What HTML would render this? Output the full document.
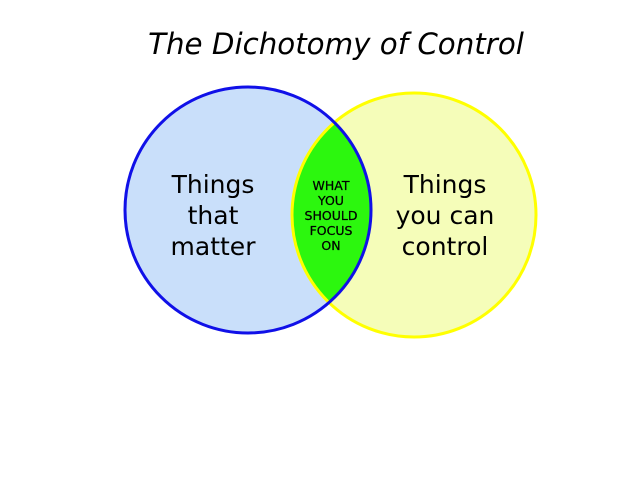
<!DOCTYPE html>
<html><head><style>
html,body{margin:0;padding:0;background:#fff;width:640px;height:480px;overflow:hidden}
</style></head><body>
<svg width="640" height="480" xmlns="http://www.w3.org/2000/svg">
<defs><clipPath id="cb"><circle cx="248" cy="210" r="123"/></clipPath></defs>
<circle cx="248" cy="210" r="123" fill="#c9dffa"/>
<circle cx="414" cy="215" r="122" fill="#f5fdb9"/>
<circle cx="414" cy="215" r="122" fill="#2cf70e" clip-path="url(#cb)"/>
<circle cx="414" cy="215" r="122" fill="none" stroke="#ffff00" stroke-width="3"/>
<circle cx="248" cy="210" r="123" fill="none" stroke="#1010e8" stroke-width="3"/>
<text x="336" y="54" text-anchor="middle" font-family="DejaVu Sans, sans-serif" font-style="italic" font-size="29.3">The Dichotomy of Control</text>
<g font-family="DejaVu Sans, sans-serif" font-size="25" text-anchor="middle" fill="#000">
<text x="213" y="193">Things</text>
<text x="213" y="224">that</text>
<text x="213" y="255">matter</text>
<text x="445" y="193">Things</text>
<text x="445" y="224">you can</text>
<text x="445" y="255">control</text>
</g>
<g font-family="DejaVu Sans, sans-serif" font-size="12.5" text-anchor="middle" fill="#000" stroke="#000" stroke-width="0.25">
<text x="331" y="190">WHAT</text>
<text x="331" y="205">YOU</text>
<text x="331" y="220">SHOULD</text>
<text x="331" y="235">FOCUS</text>
<text x="331" y="250">ON</text>
</g>
</svg>
</body></html>
